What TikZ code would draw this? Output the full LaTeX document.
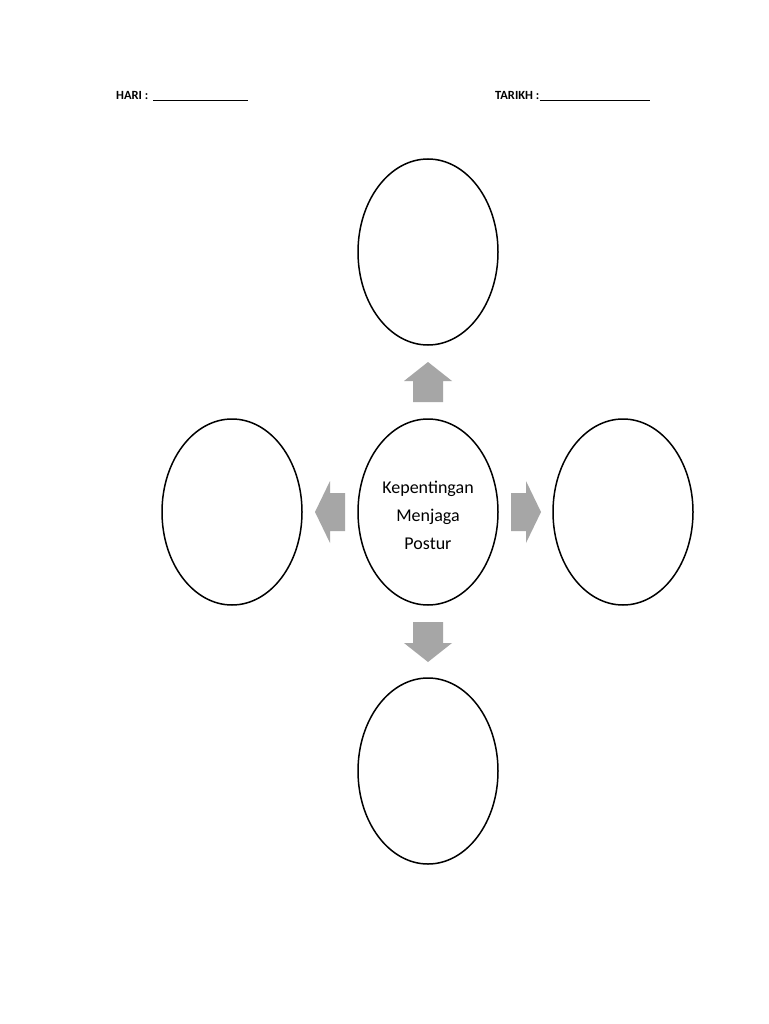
\documentclass[tikz,border=0pt]{standalone}
\usepackage{fontspec}
\setmainfont{Carlito}
\usetikzlibrary{shapes.geometric}
\definecolor{arrowgray}{HTML}{A6A6A6}
\tikzset{
  bubble/.style={ellipse, draw=black, line width=1.5pt, minimum width=140pt, minimum height=186pt, inner sep=0pt},
  blockarrow/.style={fill=arrowgray, draw=none},
  header/.style={anchor=base west, inner sep=0pt, font=\fontsize{12.5}{14}\selectfont\bfseries}
}
\begin{document}
\begin{tikzpicture}[x=1pt,y=-1pt]
\useasboundingbox[fill=white] (0,0) rectangle (768,1024);
% header
\node[header] (hari) at (116,100) {HARI :};
\coordinate (h1) at (153,100.5);
\coordinate (h2) at (248,100.5);
\draw[line width=0.7pt] (h1) -- (h2);
\node[header] (tarikh) at (495,100) {TARIKH :};
\coordinate (t1) at (tarikh.base east);
\coordinate (t2) at (650,100.5);
\draw[line width=0.7pt] ([yshift=-0.5pt]t1) -- (t2);
% ellipses
\node[bubble] (top) at (428,252) {};
\node[bubble] (center) at (428,512) {};
\node[bubble] (left) at (232,512) {};
\node[bubble] (right) at (623,512) {};
\node[bubble] (bottom) at (428,771) {};
\node[align=center, font=\fontsize{18}{28}\selectfont] (label) at (428,515) {Kepentingan\\Menjaga\\Postur};
% block arrows
\fill[blockarrow] (413,402) -- (413,381) -- (404,381) -- (428,362) -- (452,381) -- (443,381) -- (443,402) -- cycle;
\fill[blockarrow] (413,622) -- (413,643) -- (404,643) -- (428,662) -- (452,643) -- (443,643) -- (443,622) -- cycle;
\fill[blockarrow] (345,493) -- (330,493) -- (330,481) -- (315,512) -- (330,543) -- (330,531) -- (345,531) -- cycle;
\fill[blockarrow] (511,493) -- (526,493) -- (526,481) -- (541,512) -- (526,543) -- (526,531) -- (511,531) -- cycle;
\end{tikzpicture}
\end{document}
